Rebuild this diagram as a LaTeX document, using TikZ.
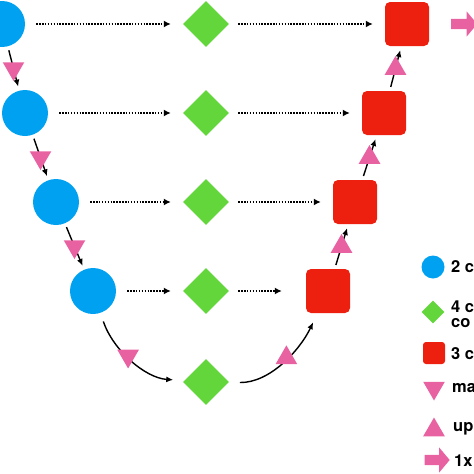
\documentclass[tikz,border=0pt]{standalone}
\usepackage{fontspec}
\setsansfont{TeX Gyre Heros}
\usepackage{tikz}
\usetikzlibrary{arrows,arrows.meta,shapes.geometric,shapes.arrows,positioning}

\definecolor{convblue}{RGB}{0,161,241}
\definecolor{convgreen}{RGB}{98,214,58}
\definecolor{convred}{RGB}{237,32,16}
\definecolor{poolpink}{RGB}{232,98,162}

\tikzset{
  encblob/.style={circle, fill=convblue, minimum size=46pt, inner sep=0pt},
  midgem/.style={diamond, fill=convgreen, minimum size=46pt, inner sep=0pt},
  decbox/.style={rectangle, rounded corners=5pt, fill=convred, minimum size=44pt, inner sep=0pt},
  pooltri/.style={regular polygon, regular polygon sides=3, shape border rotate=180, fill=poolpink, minimum size=25pt, inner sep=0pt},
  uptri/.style={regular polygon, regular polygon sides=3, fill=poolpink, minimum size=25pt, inner sep=0pt},
  outarrow/.style={single arrow, fill=poolpink, minimum height=26pt, inner xsep=0pt, inner ysep=5pt, single arrow head extend=7.5pt, single arrow tip angle=100},
  skip/.style={-{Latex[length=7pt,width=7pt]}, line width=1.5pt, dash pattern=on 1.5pt off 1.4pt, shorten <=11pt, shorten >=12pt},
  pool/.style={-{Latex[length=7pt,width=6pt]}, line width=1.4pt, shorten <=4pt, shorten >=4pt},
  keytext/.style={font=\fontsize{16.5}{15.5}\selectfont\sffamily\bfseries, inner sep=0pt, align=left}
}

\begin{document}
\begin{tikzpicture}[x=1pt,y=-1pt]
\useasboundingbox (0,0) rectangle (474,474);
\clip (0,0) rectangle (474,474);

% contracting side
\node[encblob] (e1) at (2,24) {};
\node[encblob] (e2) at (25,113) {};
\node[encblob] (e3) at (56,202) {};
\node[encblob] (e4) at (93,291) {};

% middle column
\foreach \y [count=\i] in {24,113,202,291,382}
  \node[midgem] (g\i) at (206,\y) {};

% expanding side
\node[decbox] (d1) at (407,24) {};
\node[decbox] (d2) at (384,113) {};
\node[decbox] (d3) at (355,202) {};
\node[decbox] (d4) at (328,291) {};
\node[outarrow] (o) at (462,24) {};

% skip connections
\foreach \i in {1,...,4}
  \draw[skip] (e\i) -- (g\i);
\foreach \i in {1,...,3}
  \draw[skip, shorten <=9pt] (g\i) -- (d\i);
\draw[skip, shorten <=9pt, shorten >=24pt] (g4) -- (d4);

% down
\draw[pool] (e1) -- node[pooltri] {} (e2);
\draw[pool] (e2) -- node[pooltri] {} (e3);
\draw[pool] (e3) -- node[pooltri] {} (e4);
\draw[pool, shorten <=9pt, shorten >=11pt] (e4) .. controls (113,350) and (145,378) .. node[pos=0.45, pooltri] {} (g5);

% up
\draw[pool, shorten <=11pt, shorten >=10pt] (g5) .. controls (270,383) and (300,350) .. node[pos=0.55, uptri] {} (d4);
\draw[pool] (d4) -- node[uptri] {} (d3);
\draw[pool] (d3) -- node[uptri] {} (d2);
\draw[pool] (d2) -- node[uptri] {} (d1);

% legend
\node[encblob, minimum size=23pt] (k1) at (433,267) {};
\node[midgem, minimum size=23pt] (k2) at (433,312) {};
\node[decbox, minimum size=22pt, rounded corners=3pt] (k3) at (434,353) {};
\node[pooltri] (k4) at (434,388) {};
\node[uptri] (k5) at (434,430) {};
\node[outarrow, minimum height=25pt] (k6) at (435,460) {};
\node[keytext, anchor=base west] (t1) at (451,272) {2 c};
\node[keytext, anchor=west] (t2) at (451,314) {4 c\\co};
\node[keytext, anchor=base west] (t3) at (451,359) {3 c};
\node[keytext, anchor=base west] (t4) at (452,392) {ma};
\node[keytext, anchor=base west] (t5) at (453,431) {up};
\node[keytext, anchor=base west] (t6) at (454,466) {1x};
\end{tikzpicture}
\end{document}
